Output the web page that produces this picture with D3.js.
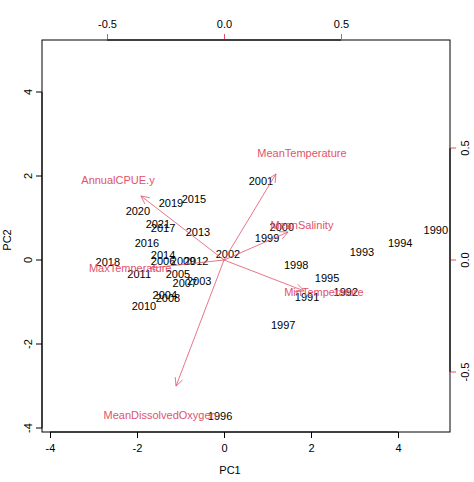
<!DOCTYPE html><html><head><meta charset="utf-8"><script src="https://cdn.jsdelivr.net/npm/d3@7"></script>
<style>body{margin:0;background:#fff}text{font-family:"Liberation Sans",Arial,sans-serif}</style></head><body>
<script>
const years=["2001","2000","1999","2002","1998","1995","1991","1992","1993","1994","1990","1997","1996","2015","2019","2020","2021","2017","2013","2016","2014","2006","2009","2012","2018","2011","2005","2007","2003","2004","2008","2010"];
const pc1=[0.85,1.33,0.99,0.09,1.66,2.37,1.91,2.80,3.17,4.05,4.87,1.36,-0.09,-0.69,-1.22,-1.98,-1.52,-1.40,-0.60,-1.77,-1.40,-1.40,-0.94,-0.64,-2.67,-1.95,-1.06,-0.90,-0.57,-1.36,-1.29,-1.84];
const pc2=[1.88,0.79,0.52,0.14,-0.12,-0.43,-0.88,-0.76,0.19,0.40,0.71,-1.55,-3.71,1.45,1.36,1.17,0.86,0.76,0.67,0.40,0.12,-0.02,-0.02,-0.02,-0.05,-0.33,-0.33,-0.55,-0.50,-0.83,-0.90,-1.10];
const vars=["AnnualCPUE.y","MeanTemperature","MeanSalinity","MinTemperature","MaxTemperature","MeanDissolvedOxygen"];
const load1=[-0.355,0.222,0.274,0.342,-0.316,-0.205];
const load2=[0.286,0.384,0.125,-0.138,-0.036,-0.563];
const lab1=[-0.453,0.333,0.333,0.427,-0.401,-0.273];
const lab2=[0.357,0.478,0.156,-0.144,-0.036,-0.692];
const xTicks=[-4,-2,0,2,4],yTicks=[-4,-2,0,2,4],tTicks=[-0.5,0,0.5],rTicks=[-0.5,0,0.5];
const W=474,H=482,L=42,R=450,T=40,B=432,col="#DF536B";
const fmt=d=>d3.format(d===0?".1f":".1f")(d).replace("−","-");
const fmtI=d=>String(d);
const svg=d3.select("body").append("svg").attr("width",W).attr("height",H);
const x=d3.scaleLinear().domain([-4,4]).range([50,398]);
const y=d3.scaleLinear().domain([-4,4]).range([428,92]);
const x2=d3.scaleLinear().domain([-0.5,0.5]).range([107,341]);
const y2=d3.scaleLinear().domain([-0.5,0.5]).range([372,148]);
svg.append("rect").attr("x",L).attr("y",T).attr("width",R-L).attr("height",B-T).attr("fill","none").attr("stroke","#000");
const fs="11px";
function ax(g,axis){g.call(axis.tickSizeOuter(0));g.select(".domain").remove();g.selectAll("text").style("font-size","11px").style("font-family","Liberation Sans, Arial");}
ax(svg.append("g").attr("transform",`translate(0,${B})`),d3.axisBottom(x).tickValues(xTicks).tickSize(6).tickPadding(6).tickFormat(fmtI));
svg.append("line").attr("x1",x(-4)).attr("x2",x(4)).attr("y1",B).attr("y2",B).attr("stroke","#000");
const gl=svg.append("g").attr("transform",`translate(${L},0)`);
ax(gl,d3.axisLeft(y).tickValues(yTicks).tickSize(6).tickFormat(fmtI));
gl.selectAll(".tick").attr("transform",null);
gl.selectAll(".tick line").attr("y1",d=>y(d)).attr("y2",d=>y(d));
gl.selectAll("text").each(function(d){d3.select(this).attr("x",-14).attr("y",y(d)).attr("dy","0.35em").attr("text-anchor","middle").attr("transform",`rotate(-90,-14,${y(d)})`);});
gl.append("line").attr("x1",0).attr("x2",0).attr("y1",y(-4)).attr("y2",y(4)).attr("stroke","#000");
const gt=svg.append("g").attr("transform",`translate(0,${T})`);
ax(gt,d3.axisTop(x2).tickValues(tTicks).tickSize(6).tickPadding(6).tickFormat(fmt));
gt.selectAll(".tick line").attr("stroke",col);
gt.append("line").attr("x1",x2(-0.5)).attr("x2",x2(0.5)).attr("y1",0).attr("y2",0).attr("stroke","#000");
const gr=svg.append("g").attr("transform",`translate(${R},0)`);
ax(gr,d3.axisRight(y2).tickValues(rTicks).tickSize(6).tickFormat(fmt));
gr.selectAll(".tick").attr("transform",null);
gr.selectAll(".tick line").attr("y1",d=>y2(d)).attr("y2",d=>y2(d)).attr("stroke",col);
gr.selectAll("text").each(function(d){d3.select(this).attr("x",15).attr("y",y2(d)).attr("dy","0.35em").attr("text-anchor","middle").attr("transform",`rotate(-90,15,${y2(d)})`);});
gr.append("line").attr("x1",0).attr("x2",0).attr("y1",y2(-0.5)).attr("y2",y2(0.5)).attr("stroke","#000");
svg.append("text").attr("x",x(0)+6).attr("y",474).attr("text-anchor","middle").style("font-size","11px").text("PC1");
svg.append("text").attr("transform",`translate(11,${(T+B)/2+4}) rotate(-90)`).attr("text-anchor","middle").style("font-size","11px").text("PC2");
svg.append("g").selectAll("text").data(years).join("text").attr("x",(d,i)=>x(pc1[i])).attr("y",(d,i)=>y(pc2[i])).attr("dy","0.35em").attr("text-anchor","middle").style("font-size",fs).attr("fill","#000").text(d=>d);
const ga=svg.append("g");
vars.forEach((v,i)=>{
  const x0=x2(0),y0=y2(0),x1=x2(load1[i]),y1=y2(load2[i]);
  ga.append("line").attr("x1",x0).attr("y1",y0).attr("x2",x1).attr("y2",y1).attr("stroke",col).attr("stroke-width",0.8);
  const a=Math.atan2(y1-y0,x1-x0),len=9,sp=0.45;
  [a+Math.PI-sp,a+Math.PI+sp].forEach(b=>ga.append("line").attr("x1",x1).attr("y1",y1).attr("x2",x1+len*Math.cos(b)).attr("y2",y1+len*Math.sin(b)).attr("stroke",col).attr("stroke-width",0.8));
  ga.append("text").attr("x",x2(lab1[i])).attr("y",y2(lab2[i])).attr("dy","0.35em").attr("text-anchor","middle").style("font-size",fs).attr("fill",col).text(v);
});
</script></body></html>
